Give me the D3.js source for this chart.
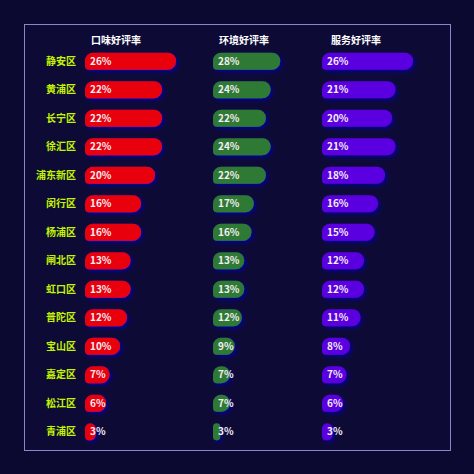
<!DOCTYPE html>
<html>
<head>
<meta charset="utf-8">
<script src="https://cdn.jsdelivr.net/npm/d3@7"></script>
<style>
  html, body { margin: 0; padding: 0; background: #0c0930; }
  text { font-family: "Noto Sans CJK SC", "Noto Sans", sans-serif; }
</style>
</head>
<body>
<div id="chart"></div>
<script>
// districts, top to bottom
var districts = ["静安区", "黄浦区", "长宁区", "徐汇区", "浦东新区", "闵行区", "杨浦区",
                 "闸北区", "虹口区", "普陀区", "宝山区", "嘉定区", "松江区", "青浦区"];
var seriesNames = ["口味好评率", "环境好评率", "服务好评率"];
var tasteRate   = [26, 22, 22, 22, 20, 16, 16, 13, 13, 12, 10, 7, 6, 3];
var envRate     = [28, 24, 22, 24, 22, 17, 16, 13, 13, 12, 9, 7, 7, 3];
var serviceRate = [26, 21, 20, 21, 18, 16, 15, 12, 12, 11, 8, 7, 6, 3];
var seriesColors = ["#e8000f", "#2e7a34", "#5a00e0"];

var W = 474, H = 474;
var svg = d3.select("#chart").append("svg")
    .attr("width", W)
    .attr("height", H);

svg.append("rect").attr("width", W).attr("height", H).attr("fill", "#0c0930");

// panel frame
svg.append("rect")
    .attr("x", 24.5).attr("y", 24.5)
    .attr("width", 426).attr("height", 426)
    .attr("fill", "#0e0a36")
    .attr("stroke", "#8a86c8")
    .attr("stroke-width", 1);

var defs = svg.append("defs");
var filt = defs.append("filter").attr("id", "shadow")
    .attr("x", "-50%").attr("y", "-50%").attr("width", "200%").attr("height", "200%");
filt.append("feDropShadow")
    .attr("dx", 2).attr("dy", 2)
    .attr("stdDeviation", 2)
    .attr("flood-color", "#0000a0")
    .attr("flood-opacity", 0.9);

var y = d3.scaleBand()
    .domain(districts)
    .range([47, 446])
    .paddingInner(0.4)
    .paddingOuter(0.2);

// each column gets its own little x scale
var series = [tasteRate, envRate, serviceRate];
var cols = [
  { x0: 85,  width: 105, head: 116 },
  { x0: 213, width: 72,  head: 244 },
  { x0: 322, width: 105, head: 356 }
];

// rounded rect with separate corner radii: tl, tr, br, bl
function leaf(x, yy, w, h, r) {
  var lim = Math.min(w / 2, h / 2);
  var tl = Math.min(r[0], lim), tr = Math.min(r[1], lim),
      br = Math.min(r[2], lim), bl = Math.min(r[3], lim);
  return "M" + (x + tl) + "," + yy +
    "H" + (x + w - tr) +
    "A" + tr + "," + tr + " 0 0 1 " + (x + w) + "," + (yy + tr) +
    "V" + (yy + h - br) +
    "A" + br + "," + br + " 0 0 1 " + (x + w - br) + "," + (yy + h) +
    "H" + (x + bl) +
    "A" + bl + "," + bl + " 0 0 1 " + x + "," + (yy + h - bl) +
    "V" + (yy + tl) +
    "A" + tl + "," + tl + " 0 0 1 " + (x + tl) + "," + yy + "Z";
}

// category labels
svg.append("g").selectAll("text")
  .data(districts)
  .enter().append("text")
    .attr("x", 76)
    .attr("y", function(d) { return y(d) + y.bandwidth() / 2; })
    .attr("dy", "0.35em")
    .attr("text-anchor", "end")
    .attr("font-size", 10)
    .attr("font-weight", "bold")
    .attr("fill", "#c4f500")
    .text(function(d) { return d; });

series.forEach(function(vals, s) {
  var c = cols[s];
  var x = d3.scaleLinear().domain([0, 30]).range([c.x0, c.x0 + c.width]);
  var g = svg.append("g");

  g.append("text")
    .attr("x", c.head)
    .attr("y", 40)
    .attr("dy", "0.35em")
    .attr("text-anchor", "middle")
    .attr("font-size", 10)
    .attr("font-weight", "bold")
    .attr("fill", "#ffffff")
    .text(seriesNames[s]);

  g.selectAll("path")
    .data(vals)
    .enter().append("path")
      .attr("d", function(d, i) {
        return leaf(x(0), y(districts[i]), x(d) - x(0), y.bandwidth(), [8, 8, 9, 4]);
      })
      .attr("fill", seriesColors[s])
      .attr("filter", "url(#shadow)");

  g.selectAll("text.val")
    .data(vals)
    .enter().append("text")
      .attr("class", "val")
      .attr("x", x(0) + 5)
      .attr("y", function(d, i) { return y(districts[i]) + y.bandwidth() / 2; })
      .attr("dy", "0.35em")
      .attr("font-size", 10)
      .attr("font-weight", "bold")
      .attr("fill", "#f4eef4")
      .text(function(d) { return d + "%"; });
});
</script>
</body>
</html>
